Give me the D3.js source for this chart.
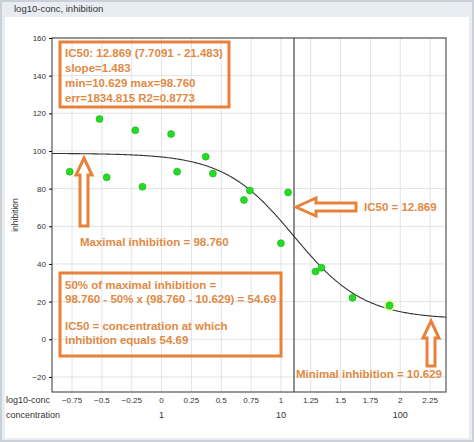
<!DOCTYPE html><html><head><meta charset="utf-8"><script src="https://d3js.org/d3.v7.min.js"></script>
<style>body{margin:0;background:#fff}text{font-family:Arial,"Liberation Sans",sans-serif}</style></head><body><script>
const logConc=[-0.77,-0.52,-0.46,-0.22,-0.16,0.08,0.13,0.37,0.43,0.69,0.74,1.0,1.06,1.29,1.34,1.60,1.91];
const inhibition=[89,117,86,111,81,109,89,97,88,74,79,51,78,36,38,22,18];
const xTicks=[-0.75,-0.5,-0.25,0,0.25,0.5,0.75,1,1.25,1.5,1.75,2,2.25];
const yTicks=[-20,0,20,40,60,80,100,120,140,160];
const concTicks=[1,10,100];
const fit={ic50:12.869,slope:1.483,min:10.629,max:98.760};
const W=474,H=442;
const svg=d3.select("body").append("svg").attr("width",W).attr("height",H);
svg.append("rect").attr("width",W).attr("height",H).attr("fill","#c9d0d8");
svg.append("rect").attr("x",2).attr("y",2).attr("width",W-4).attr("height",H-4).attr("fill","#e9edf2");
svg.append("text").attr("x",14).attr("y",12).attr("font-size",9.5).attr("fill","#333").text("log10-conc, inhibition");
svg.append("rect").attr("x",5).attr("y",17).attr("width",464).attr("height",421).attr("fill","#fff");
const x=d3.scaleLinear().domain([-0.918,2.383]).range([52,446]);
const y=d3.scaleLinear().domain([-28,160]).range([392,38]);
const g=svg.append("g");
g.selectAll(".gx").data(xTicks).join("line").attr("x1",d=>x(d)).attr("x2",d=>x(d)).attr("y1",38).attr("y2",392).attr("stroke","#e3e3e3");
g.selectAll(".gy").data(yTicks).join("line").attr("x1",52).attr("x2",446).attr("y1",d=>y(d)).attr("y2",d=>y(d)).attr("stroke","#e3e3e3");
g.append("rect").attr("x",52).attr("y",38).attr("width",394).attr("height",354).attr("fill","none").attr("stroke","#555").attr("stroke-width",1.2);
const ya=svg.append("g").attr("transform","translate(52,0)").call(d3.axisLeft(y).tickValues(yTicks).tickSize(3));
ya.select(".domain").remove();ya.selectAll("text").attr("font-size",8).attr("fill","#333");
svg.selectAll(".xt").data(xTicks).join("text").attr("x",d=>x(d)).attr("y",403).attr("text-anchor","middle").attr("font-size",8).attr("fill","#333").text(d=>d3.format("")(d));
svg.selectAll(".ct").data(concTicks).join("text").attr("x",d=>x(Math.log10(d))).attr("y",418).attr("text-anchor","middle").attr("font-size",9).attr("fill","#333").text(d=>d);
svg.append("text").attr("x",6).attr("y",403).attr("font-size",9).attr("fill","#333").text("log10-conc");
svg.append("text").attr("x",6).attr("y",418).attr("font-size",9).attr("fill","#333").text("concentration");
svg.append("text").attr("transform","translate(18,215) rotate(-90)").attr("text-anchor","middle").attr("font-size",8.5).attr("fill","#333").text("inhibition");
const li=Math.log10(fit.ic50);
svg.append("line").attr("x1",x(li)).attr("x2",x(li)).attr("y1",38).attr("y2",392).attr("stroke","#444").attr("stroke-width",1.2);
const f=v=>fit.min+(fit.max-fit.min)/(1+Math.pow(10,(v-li)*fit.slope));
svg.append("path").datum(d3.range(-0.918,2.384,0.01)).attr("d",d3.line().x(d=>x(d)).y(d=>y(f(d)))).attr("fill","none").attr("stroke","#333").attr("stroke-width",1.1);
svg.append("circle").attr("cx",x(1.91)).attr("cy",y(18)).attr("r",6).attr("fill","#eef7a0").attr("opacity",0.8);
svg.selectAll(".pt").data(logConc).join("circle").attr("cx",d=>x(d)).attr("cy",(d,i)=>y(inhibition[i])).attr("r",3.5).attr("fill","#22dd22").attr("stroke","#19b019").attr("stroke-width",0.6);
const O="#e8823a",T="#e08a45";
function box(x0,y0,w,h){svg.append("rect").attr("x",x0).attr("y",y0).attr("width",w).attr("height",h).attr("fill","none").attr("stroke",O).attr("stroke-width",3);}
function txt(xx,yy,s){svg.append("text").attr("x",xx).attr("y",yy).attr("font-size",11.5).attr("font-weight","bold").attr("fill",T).text(s);}
box(60,42,169,65);
["IC50: 12.869 (7.7091 - 21.483)","slope=1.483","min=10.629 max=98.760","err=1834.815 R2=0.8773"].forEach((s,i)=>txt(65,57+i*15,s));
box(60,273,221,83);
txt(65,289,"50% of maximal inhibition =");txt(65,303,"98.760 - 50% x (98.760 - 10.629) = 54.69");
txt(65,330,"IC50 = concentration at which");txt(65,344,"inhibition equals 54.69");
function arrowUp(cx,top,bot){svg.append("path").attr("d",`M${cx},${top} L${cx+8},${top+17} L${cx+4},${top+17} L${cx+4},${bot} L${cx-4},${bot} L${cx-4},${top+17} L${cx-8},${top+17} Z`).attr("fill","#fff").attr("stroke",O).attr("stroke-width",3).attr("stroke-linejoin","miter");}
arrowUp(84,158,226);arrowUp(431,321,366);
svg.append("path").attr("d","M296,207 L316,198 L316,203 L356,203 L356,211 L316,211 L316,216 Z").attr("fill","#fff").attr("stroke",O).attr("stroke-width",3);
txt(80,246,"Maximal inhibition = 98.760");
txt(364,211,"IC50 = 12.869");
txt(296,378,"Minimal inhibition = 10.629");
</script></body></html>
